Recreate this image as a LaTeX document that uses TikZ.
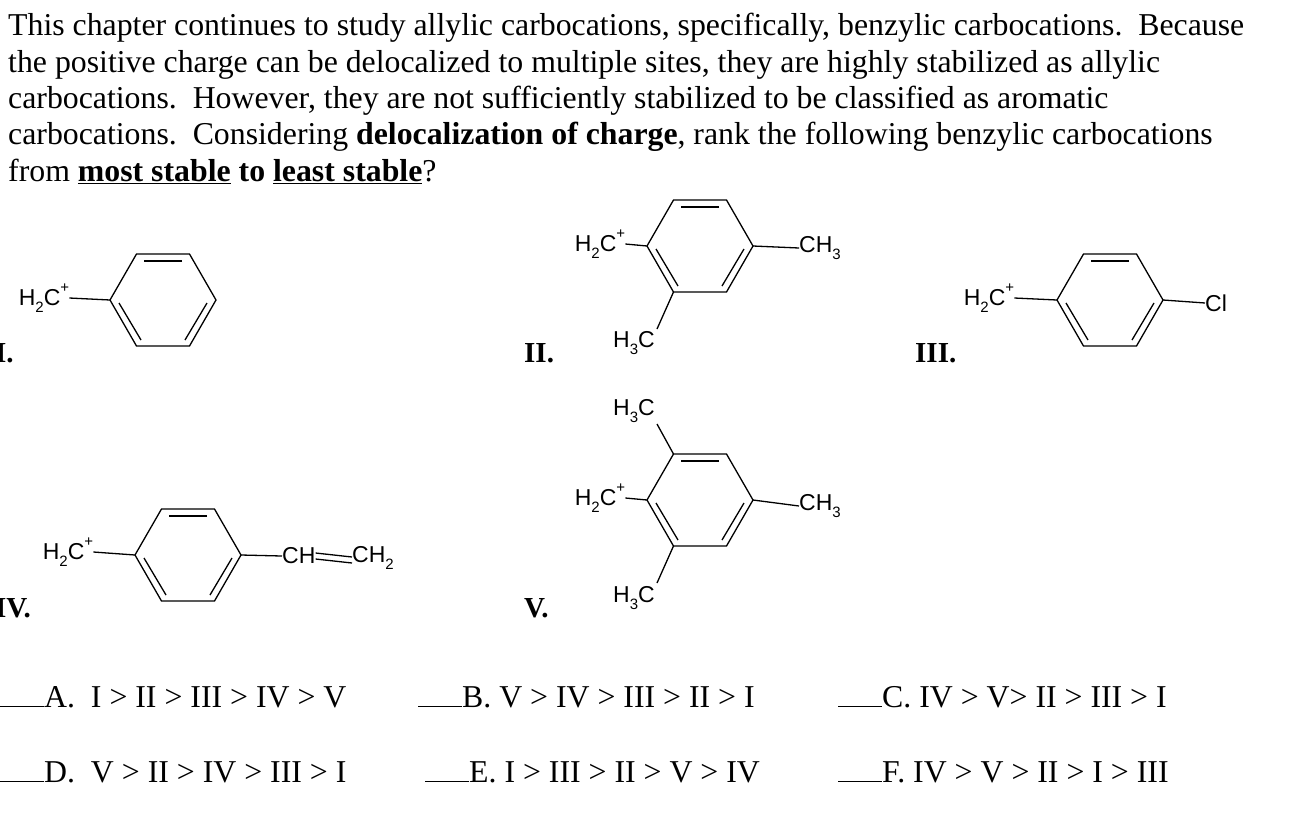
\documentclass[tikz,border=0pt]{standalone}
\usepackage{fontspec}
\setmainfont{Liberation Serif}
\newfontfamily\chemf{Liberation Sans}
\begin{document}
\begin{tikzpicture}[x=1pt,y=-1pt,
  bond/.style={line width=1.3pt},
  chem/.style={font=\chemf\fontsize{23}{23}\selectfont,inner sep=0pt},
  txt/.style={font=\fontsize{31.8}{33}\selectfont,inner sep=0pt,anchor=base west},
  lab/.style={font=\bfseries\fontsize{29}{29}\selectfont,inner sep=0pt,anchor=base west}]
\useasboundingbox (0,0) rectangle (1304,812);
\newcommand\benz[2]{%
  \begin{scope}[shift={(#1)}]
  \coordinate (#2a) at (53,0); \coordinate (#2b) at (26.5,-46);
  \coordinate (#2c) at (-26.5,-46); \coordinate (#2d) at (-53,0);
  \coordinate (#2e) at (-26.5,46); \coordinate (#2f) at (26.5,46);
  \draw[bond] (#2a)--(#2b)--(#2c)--(#2d)--(#2e)--(#2f)--cycle;
  \draw[bond] (19,-39)--(-19,-39);
  \draw[bond] (-44,3)--(-22,40);
  \draw[bond] (44,3)--(22,40);
  \end{scope}}
\newcommand\sbs[1]{\raisebox{-0.3em}{\fontsize{15}{15}\selectfont #1}}
\newcommand\ctp{H\sbs{2}C\raisebox{0.55em}{\fontsize{15}{15}\selectfont+}}
% text
\node[txt] (t1) at (8,35) {This chapter continues to study allylic carbocations, specifically, benzylic carbocations.\ \ Because};
\node[txt] (t2) at (8,72) {the positive charge can be delocalized to multiple sites, they are highly stabilized as allylic};
\node[txt] (t3) at (8,108) {carbocations.\ \ However, they are not sufficiently stabilized to be classified as aromatic};
\node[txt] (t4) at (8,144) {carbocations.\ \ Considering \textbf{delocalization of charge}, rank the following benzylic carbocations};
\node[txt] (t5) at (8,181) {from \underline{\textbf{most stable}} \textbf{to} \underline{\textbf{least stable}}?};
% I
\benz{163,300}{r1}
\node[chem] (c1) at (44,298) {\ctp};
\draw[bond] (c1.east)--(r1d);
\node[lab] (l1) at (-5,362) {I.};
% II
\benz{700,246}{r2}
\node[chem] (c2) at (600,244) {\ctp};
\draw[bond] (c2.east)--(r2d);
\node[chem] (m2) at (820,248) {CH\sbs{3}};
\draw[bond] (r2a)--(m2.west);
\node[chem] (b2) at (634,343) {H\sbs{3}C};
\coordinate (b2t) at (657,329);
\draw[bond] (r2e)--(b2t);
\node[lab] (l2) at (524,362) {II.};
% III
\benz{1110,300}{r3}
\node[chem] (c3) at (989,298) {\ctp};
\draw[bond] (c3.east)--(r3d);
\node[chem,anchor=west] (cl) at (1205,303) {Cl};
\draw[bond] (r3a)--(cl.west);
\node[lab] (l3) at (915,362) {III.};
% IV
\benz{188,555}{r4}
\node[chem] (c4) at (68,552) {\ctp};
\draw[bond] (c4.east)--(r4d);
\node[chem,anchor=west] (v1) at (282,556) {CH};
\node[chem,anchor=west] (v2) at (352,558) {CH\sbs{2}};
\draw[bond] (r4a)--(v1.west);
\draw[bond] ([yshift=-3]v1.east)--([yshift=-5]v2.west);
\draw[bond] ([yshift=3]v1.east)--([yshift=1]v2.west);
\node[lab] (l4) at (-5,617) {IV.};
% V
\benz{700,500}{r5}
\node[chem] (c5) at (600,498) {\ctp};
\draw[bond] (c5.east)--(r5d);
\node[chem] (m5) at (820,506) {CH\sbs{3}};
\draw[bond] (r5a)--(m5.west);
\node[chem] (t5c) at (634,411) {H\sbs{3}C};
\coordinate (t5t) at (657,424);
\draw[bond] (r5c)--(t5t);
\node[chem] (b5) at (634,598) {H\sbs{3}C};
\coordinate (b5t) at (657,583);
\draw[bond] (r5e)--(b5t);
\node[lab] (l5) at (524,617) {V.};
% answers
\node[txt] (a) at (0,707) {\rule{44pt}{1pt}A.\ \ I > II > III > IV > V};
\node[txt] (b) at (418,707) {\rule{44pt}{1pt}B. V > IV > III > II > I};
\node[txt] (c) at (838,707) {\rule{44pt}{1pt}C. IV > V> II > III > I};
\node[txt] (d) at (0,782) {\rule{44pt}{1pt}D.\ \ V > II > IV > III > I};
\node[txt] (e) at (425,782) {\rule{44pt}{1pt}E. I > III > II > V > IV};
\node[txt] (f) at (838,782) {\rule{44pt}{1pt}F. IV > V > II > I > III};
\end{tikzpicture}
\end{document}
